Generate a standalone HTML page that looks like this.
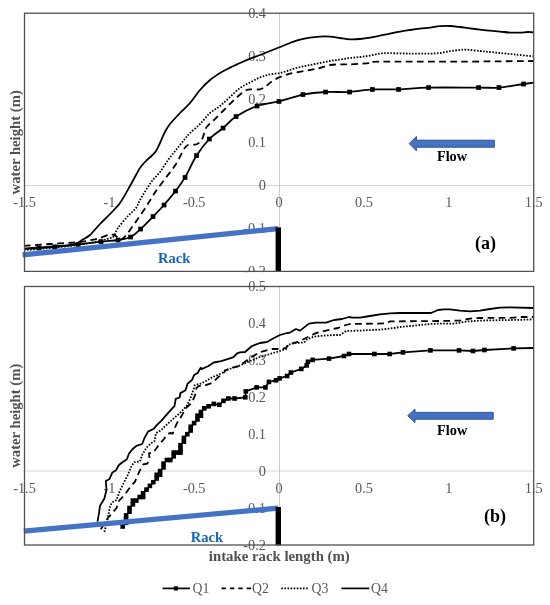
<!DOCTYPE html>
<html lang="en"><head><meta charset="utf-8"><title>Water height along intake rack</title>
<style>html,body{margin:0;padding:0;background:#fff}svg{display:block}text{font-family:"Liberation Serif","Times New Roman",serif}</style></head><body>
<svg width="550" height="605" viewBox="0 0 550 605">
<rect width="550" height="605" fill="#fff"/>
<g id="chart-a">
<line x1="24.5" y1="185.5" x2="533.7" y2="185.5" stroke="#d4d4d4" stroke-width="1"/>
<line x1="279.5" y1="13.2" x2="279.5" y2="271.4" stroke="#cccccc" stroke-width="1"/>
<g fill="#595959" font-size="14.3px">
<text x="266" y="18.0" text-anchor="end">0.4</text>
<text x="266" y="61.0" text-anchor="end">0.3</text>
<text x="266" y="104.1" text-anchor="end">0.2</text>
<text x="266" y="147.1" text-anchor="end">0.1</text>
<text x="266" y="190.1" text-anchor="end">0</text>
<text x="266" y="233.2" text-anchor="end">-0.1</text>
<text x="266" y="276.2" text-anchor="end">-0.2</text>
<text x="24.5" y="207.3" text-anchor="middle">-1.5</text>
<text x="109.4" y="207.3" text-anchor="middle">-1</text>
<text x="194.2" y="207.3" text-anchor="middle">-0.5</text>
<text x="279.1" y="207.3" text-anchor="middle">0</text>
<text x="364.0" y="207.3" text-anchor="middle">0.5</text>
<text x="448.8" y="207.3" text-anchor="middle">1</text>
<text x="533.7" y="207.3" text-anchor="middle">1.5</text>
</g>
<text transform="translate(19.5,142.3) rotate(-90)" text-anchor="middle" font-size="14.7px" font-weight="bold" fill="#505050">water height (m)</text>
<g fill="none" stroke="#000" stroke-width="1.8" stroke-linejoin="round">
<path d="M24.0 248.6 C26.7 248.4 34.0 247.8 40.0 247.4 C46.0 247.0 54.2 246.6 60.0 246.0 C65.8 245.4 71.3 245.0 75.0 244.0 C78.7 243.0 79.5 241.5 82.0 240.0 C84.5 238.5 87.0 237.7 90.0 235.0 C93.0 232.3 96.7 227.5 100.0 224.0 C103.3 220.5 106.7 217.5 110.0 214.0 C113.3 210.5 116.7 207.7 120.0 203.0 C123.3 198.3 126.7 191.8 130.0 186.0 C133.3 180.2 137.3 172.2 140.0 168.0 C142.7 163.8 144.0 163.1 146.0 161.0 C148.0 158.9 150.3 157.2 152.0 155.5 C153.7 153.8 154.7 153.1 156.0 151.0 C157.3 148.9 158.8 145.5 160.0 143.0 C161.2 140.5 162.0 138.2 163.0 136.0 C164.0 133.8 164.8 132.0 166.0 130.0 C167.2 128.0 167.7 126.8 170.0 124.0 C172.3 121.2 176.7 116.5 180.0 113.0 C183.3 109.5 186.7 106.8 190.0 103.0 C193.3 99.2 196.7 93.8 200.0 90.0 C203.3 86.2 206.7 82.8 210.0 80.0 C213.3 77.2 216.7 75.1 220.0 73.0 C223.3 70.9 226.7 69.3 230.0 67.6 C233.3 65.9 236.7 64.5 240.0 63.0 C243.3 61.5 246.7 59.9 250.0 58.6 C253.3 57.3 256.7 56.3 260.0 55.0 C263.3 53.7 266.7 52.3 270.0 51.0 C273.3 49.7 276.7 48.3 280.0 47.0 C283.3 45.7 286.7 44.2 290.0 43.0 C293.3 41.8 296.7 40.5 300.0 39.6 C303.3 38.7 306.7 38.1 310.0 37.6 C313.3 37.1 316.7 36.8 320.0 36.6 C323.3 36.4 326.7 36.4 330.0 36.6 C333.3 36.8 336.7 37.5 340.0 38.0 C343.3 38.5 346.7 39.2 350.0 39.4 C353.3 39.6 356.7 39.3 360.0 39.0 C363.3 38.7 366.7 38.2 370.0 37.6 C373.3 37.0 376.7 36.3 380.0 35.6 C383.3 34.9 386.7 34.3 390.0 33.6 C393.3 32.9 396.7 32.2 400.0 31.6 C403.3 31.0 406.7 30.5 410.0 30.0 C413.3 29.5 416.7 29.0 420.0 28.6 C423.3 28.2 426.7 28.0 430.0 27.6 C433.3 27.2 436.7 26.5 440.0 26.2 C443.3 25.9 446.7 25.9 450.0 26.0 C453.3 26.1 456.7 26.6 460.0 27.0 C463.3 27.4 466.7 28.0 470.0 28.4 C473.3 28.8 476.7 29.2 480.0 29.6 C483.3 30.0 486.7 30.3 490.0 30.6 C493.3 30.9 496.7 31.3 500.0 31.6 C503.3 31.9 506.7 32.4 510.0 32.6 C513.3 32.8 517.0 32.7 520.0 32.6 C523.0 32.5 525.7 32.0 528.0 32.0 C530.3 32.0 533.0 32.3 534.0 32.4"/>
<path d="M24.0 250.0 C28.3 249.7 40.7 248.9 50.0 248.0 C59.3 247.1 71.7 245.8 80.0 244.6 C88.3 243.4 95.0 242.1 100.0 241.0 C105.0 239.9 107.7 238.8 110.0 238.0 C112.3 237.2 112.7 237.7 114.0 236.0 C115.3 234.3 115.7 231.3 118.0 228.0 C120.3 224.7 125.0 219.3 128.0 216.0 C131.0 212.7 134.0 210.7 136.0 208.0 C138.0 205.3 138.3 203.0 140.0 200.0 C141.7 197.0 144.0 193.2 146.0 190.0 C148.0 186.8 149.7 184.0 152.0 181.0 C154.3 178.0 157.3 175.5 160.0 172.0 C162.7 168.5 165.3 163.7 168.0 160.0 C170.7 156.3 173.3 153.3 176.0 150.0 C178.7 146.7 181.7 142.8 184.0 140.0 C186.3 137.2 187.3 135.7 190.0 133.0 C192.7 130.3 196.7 127.3 200.0 124.0 C203.3 120.7 206.7 116.0 210.0 113.0 C213.3 110.0 216.7 108.7 220.0 106.0 C223.3 103.3 226.7 100.0 230.0 97.0 C233.3 94.0 236.7 90.4 240.0 88.0 C243.3 85.6 246.7 84.2 250.0 82.5 C253.3 80.8 256.7 78.8 260.0 77.5 C263.3 76.2 266.7 75.2 270.0 74.4 C273.3 73.7 276.7 73.7 280.0 73.0 C283.3 72.3 286.7 71.0 290.0 70.0 C293.3 69.0 296.7 67.8 300.0 67.0 C303.3 66.2 306.7 65.7 310.0 65.0 C313.3 64.3 316.7 63.7 320.0 63.0 C323.3 62.3 326.7 61.6 330.0 61.0 C333.3 60.4 336.7 60.1 340.0 59.6 C343.3 59.1 346.7 58.4 350.0 58.0 C353.3 57.6 356.7 57.4 360.0 57.0 C363.3 56.6 366.7 56.2 370.0 55.6 C373.3 55.0 376.7 54.0 380.0 53.6 C383.3 53.2 385.0 53.2 390.0 53.2 C395.0 53.2 403.3 53.5 410.0 53.6 C416.7 53.7 425.0 53.7 430.0 53.6 C435.0 53.5 436.7 53.4 440.0 53.0 C443.3 52.6 446.7 51.7 450.0 51.2 C453.3 50.7 457.3 50.3 460.0 50.0 C462.7 49.7 462.7 49.4 466.0 49.6 C469.3 49.8 476.0 50.6 480.0 51.0 C484.0 51.4 486.7 51.7 490.0 52.0 C493.3 52.3 496.7 52.7 500.0 53.0 C503.3 53.3 506.7 53.7 510.0 54.0 C513.3 54.3 516.0 54.6 520.0 55.0 C524.0 55.4 531.7 56.2 534.0 56.4" stroke-dasharray="1.6 1.5"/>
<path d="M24.0 245.8 C28.3 245.5 41.3 244.6 50.0 244.0 C58.7 243.4 69.3 243.0 76.0 242.4 C82.7 241.8 86.0 241.0 90.0 240.3 C94.0 239.6 96.7 239.0 100.0 238.0 C103.3 237.0 107.3 234.8 110.0 234.5 C112.7 234.2 114.3 235.1 116.0 236.0 C117.7 236.9 118.3 240.1 120.0 240.0 C121.7 239.9 123.8 237.7 126.0 235.3 C128.2 232.9 130.9 228.6 133.2 225.5 C135.4 222.4 137.4 219.7 139.5 216.6 C141.6 213.5 144.0 210.1 145.9 207.1 C147.8 204.1 149.3 201.5 151.0 198.8 C152.7 196.1 153.5 194.6 156.0 191.0 C158.5 187.4 162.7 182.0 166.0 177.5 C169.3 173.0 173.0 168.8 176.0 164.0 C179.0 159.2 182.0 152.2 184.0 149.0 C186.0 145.8 186.0 145.8 188.0 145.0 C190.0 144.2 194.0 145.0 196.0 144.5 C198.0 144.0 198.8 143.2 200.0 142.0 C201.2 140.8 202.0 139.3 203.0 137.0 C204.0 134.7 204.2 130.8 206.0 128.0 C207.8 125.2 211.0 123.0 214.0 120.0 C217.0 117.0 220.7 113.3 224.0 110.0 C227.3 106.7 231.0 102.8 234.0 100.0 C237.0 97.2 239.7 94.7 242.0 93.0 C244.3 91.3 245.0 90.2 248.0 89.6 C251.0 89.0 257.0 89.9 260.0 89.3 C263.0 88.7 263.7 87.5 266.0 86.0 C268.3 84.5 271.0 81.7 274.0 80.0 C277.0 78.3 280.3 76.9 284.0 75.6 C287.7 74.3 291.7 73.3 296.0 72.4 C300.3 71.5 306.0 70.7 310.0 70.0 C314.0 69.3 316.7 68.8 320.0 68.0 C323.3 67.2 326.7 65.6 330.0 65.0 C333.3 64.4 336.7 64.5 340.0 64.4 C343.3 64.3 345.0 64.6 350.0 64.4 C355.0 64.2 365.0 63.5 370.0 63.0 C375.0 62.5 365.0 61.8 380.0 61.6 C395.0 61.4 434.3 61.7 460.0 61.6 C485.7 61.5 521.7 61.1 534.0 61.0" stroke-dasharray="6.7 4.4"/>
<path d="M24.0 249.0 C26.5 248.8 33.8 248.4 39.0 248.0 C44.2 247.6 48.5 247.4 55.0 246.8 C61.5 246.2 70.3 245.5 78.0 244.6 C85.7 243.7 94.3 242.4 101.0 241.6 C107.7 240.8 113.1 240.8 118.0 240.0 C122.9 239.2 126.8 238.8 130.6 237.0 C134.4 235.2 136.9 232.4 140.6 229.0 C144.3 225.6 149.1 220.6 153.0 216.6 C156.9 212.6 160.2 209.3 164.0 205.0 C167.8 200.7 172.1 195.6 175.6 191.0 C179.1 186.4 181.5 183.3 185.0 177.4 C188.5 171.5 192.5 162.0 196.6 155.6 C200.7 149.2 204.9 143.6 209.3 139.0 C213.7 134.4 218.6 131.7 223.0 128.0 C227.4 124.3 230.3 120.3 236.0 116.6 C241.7 112.9 249.8 108.5 257.0 106.0 C264.2 103.5 271.3 103.3 279.0 101.4 C286.7 99.5 295.2 96.2 303.0 94.6 C310.8 93.0 317.8 92.4 325.6 92.0 C333.4 91.6 341.8 92.4 349.6 92.0 C357.4 91.6 364.2 89.8 372.4 89.4 C380.6 89.0 389.2 89.7 398.6 89.4 C408.0 89.1 415.3 87.9 428.6 87.6 C441.9 87.3 466.9 87.6 478.6 87.6 C490.3 87.6 491.5 88.2 499.0 87.6 C506.5 87.0 517.8 84.8 523.6 84.0 C529.4 83.2 532.3 82.8 534.0 82.6"/>
</g>
<g fill="#000"><rect x="36.6" y="245.7" width="4.7" height="4.7"/><rect x="52.6" y="244.5" width="4.7" height="4.7"/><rect x="75.7" y="242.2" width="4.7" height="4.7"/><rect x="98.7" y="239.2" width="4.7" height="4.7"/><rect x="115.7" y="237.7" width="4.7" height="4.7"/><rect x="128.2" y="234.7" width="4.7" height="4.7"/><rect x="138.2" y="226.7" width="4.7" height="4.7"/><rect x="150.7" y="214.2" width="4.7" height="4.7"/><rect x="161.7" y="202.7" width="4.7" height="4.7"/><rect x="173.2" y="188.7" width="4.7" height="4.7"/><rect x="182.7" y="175.1" width="4.7" height="4.7"/><rect x="194.2" y="153.2" width="4.7" height="4.7"/><rect x="207.0" y="136.7" width="4.7" height="4.7"/><rect x="220.7" y="125.7" width="4.7" height="4.7"/><rect x="233.7" y="114.2" width="4.7" height="4.7"/><rect x="254.7" y="103.7" width="4.7" height="4.7"/><rect x="276.6" y="99.1" width="4.7" height="4.7"/><rect x="300.6" y="92.2" width="4.7" height="4.7"/><rect x="323.2" y="89.7" width="4.7" height="4.7"/><rect x="347.2" y="89.7" width="4.7" height="4.7"/><rect x="370.0" y="87.1" width="4.7" height="4.7"/><rect x="396.2" y="87.1" width="4.7" height="4.7"/><rect x="426.2" y="85.2" width="4.7" height="4.7"/><rect x="476.2" y="85.2" width="4.7" height="4.7"/><rect x="496.6" y="85.2" width="4.7" height="4.7"/><rect x="521.2" y="81.7" width="4.7" height="4.7"/></g>
<line x1="22.6" y1="254.9" x2="278" y2="228.6" stroke="#4472c4" stroke-width="5.3"/>
<rect x="275.6" y="227.4" width="5.4" height="44.6" fill="#000"/>
<text x="158" y="263.3" font-size="14.6px" font-weight="bold" fill="#1467b8">Rack</text>
<path d="M409.2 143.6 L416.4 136.4 L416.4 140.2 L494.3 140.2 L494.3 147.2 L416.4 147.2 L416.4 150.8 Z" fill="#4472c4" stroke="#2f528f" stroke-width="1"/>
<text x="452" y="160.8" text-anchor="middle" font-size="14.3px" font-weight="bold" fill="#000">Flow</text>
<text x="485.5" y="248.5" text-anchor="middle" font-size="18px" font-weight="bold" fill="#000">(a)</text>
<rect x="24.5" y="13.2" width="509.2" height="258.2" fill="none" stroke="#505050" stroke-width="1.3"/>
</g>
<rect x="0" y="272.2" width="550" height="9" fill="#fff"/>
<g id="chart-b">
<line x1="24.5" y1="471.0" x2="533.7" y2="471.0" stroke="#d4d4d4" stroke-width="1"/>
<line x1="279.5" y1="286.5" x2="279.5" y2="545.0" stroke="#cccccc" stroke-width="1"/>
<g fill="#595959" font-size="14.3px">
<text x="266" y="291.3" text-anchor="end">0.5</text>
<text x="266" y="328.2" text-anchor="end">0.4</text>
<text x="266" y="365.2" text-anchor="end">0.3</text>
<text x="266" y="402.1" text-anchor="end">0.2</text>
<text x="266" y="439.0" text-anchor="end">0.1</text>
<text x="266" y="475.9" text-anchor="end">0</text>
<text x="266" y="512.9" text-anchor="end">-0.1</text>
<text x="266" y="549.8" text-anchor="end">-0.2</text>
<text x="24.5" y="493.1" text-anchor="middle">-1.5</text>
<text x="109.4" y="493.1" text-anchor="middle">-1</text>
<text x="194.2" y="493.1" text-anchor="middle">-0.5</text>
<text x="279.1" y="493.1" text-anchor="middle">0</text>
<text x="364.0" y="493.1" text-anchor="middle">0.5</text>
<text x="448.8" y="493.1" text-anchor="middle">1</text>
<text x="533.7" y="493.1" text-anchor="middle">1.5</text>
</g>
<text transform="translate(19.5,415.7) rotate(-90)" text-anchor="middle" font-size="14.7px" font-weight="bold" fill="#505050">water height (m)</text>
<g fill="none" stroke="#000" stroke-width="1.8" stroke-linejoin="round">
<path d="M97.5 521.6 L99.2 511.8 L100.0 505.8 L104.4 498.5 L106.5 489.8 L105.8 481.0 L109.5 479.0 L112.4 472.4 L116.0 470.2 L118.9 465.0 L122.5 462.2 L126.9 459.3 L129.0 453.5 L132.7 449.0 L136.4 445.9 L142.2 444.0 L144.4 438.2 L148.0 431.6 L153.8 428.7 L157.5 424.4 L161.5 420.7 L165.8 415.6 L170.9 409.8 L174.5 406.2 L175.7 398.9 L179.6 397.5 L180.4 393.1 L185.5 390.2 L187.6 383.6 L192.0 380.0 L194.2 374.9 L197.8 372.7 L200.7 367.6 L201.5 369.1 L208.0 366.2 L213.8 362.5 L221.1 361.1 L228.4 358.9 L233.5 357.2 L237.1 353.4 L240.0 352.4 L245.0 352.0 L252.0 346.0 L260.0 343.0 L267.0 342.0 L274.0 338.0 L280.0 335.0 L287.0 333.0 L290.0 332.6 L296.0 329.0 L300.0 330.6 L309.0 323.6 L316.0 322.6 L326.0 322.6 L334.0 320.0 L342.0 319.0 L349.0 317.0 L352.0 317.6 L360.0 317.6 L370.0 316.0 L380.0 314.4 L390.0 313.4 L400.0 313.0 L420.0 313.0 L431.0 313.0 L438.0 310.0 L444.0 309.4 L450.0 309.4 L460.0 310.6 L470.0 311.4 L480.0 310.6 L490.0 309.0 L500.0 307.6 L510.0 307.4 L534.0 308.0"/>
<path d="M104.4 532.0 L107.9 517.3 L110.2 505.8 L112.4 502.2 L116.7 500.0 L119.6 491.3 L124.0 482.5 L127.6 475.3 L131.3 466.5 L134.2 462.2 L140.0 461.5 L142.2 454.9 L146.5 447.6 L150.9 443.3 L154.5 441.1 L156.0 433.1 L161.1 430.2 L165.8 425.5 L170.2 421.5 L176.0 416.4 L181.8 411.3 L186.9 405.5 L190.5 398.2 L193.5 389.5 L194.9 385.1 L200.7 383.6 L206.5 380.7 L212.4 377.1 L218.2 374.9 L222.5 372.7 L225.5 369.8 L229.8 369.0 L232.0 368.0 L240.0 365.4 L250.0 361.0 L260.0 357.0 L270.0 354.0 L280.0 351.0 L286.0 349.0 L288.0 345.0 L294.0 343.0 L304.0 342.6 L307.0 339.4 L314.0 336.6 L324.0 335.6 L334.0 335.0 L340.0 335.0 L346.0 331.0 L360.0 330.6 L380.0 329.6 L390.0 328.6 L400.0 327.0 L410.0 326.0 L420.0 325.0 L430.0 324.0 L440.0 323.6 L454.0 323.6 L466.0 321.6 L480.0 320.6 L500.0 320.2 L520.0 319.8 L534.0 319.4" stroke-dasharray="1.6 1.5"/>
<path d="M100.8 529.3 L108.4 517.3 L116.6 508.0 L118.8 501.0 L124.0 495.6 L129.8 487.6 L134.9 481.8 L139.3 471.6 L143.0 464.5 L147.3 463.6 L149.5 458.5 L149.0 453.2 L153.0 453.0 L156.0 449.0 L159.0 444.7 L164.0 439.0 L167.0 434.5 L170.0 433.0 L172.7 433.6 L175.0 427.3 L177.5 422.2 L181.8 415.6 L185.5 408.4 L192.0 402.5 L195.6 393.8 L196.4 388.0 L199.3 385.8 L203.6 385.8 L210.2 383.6 L213.8 381.5 L218.2 377.1 L222.5 374.2 L226.2 369.8 L229.1 369.5 L232.7 367.6 L240.0 365.9 L242.0 364.0 L250.0 358.0 L260.0 352.0 L272.0 349.0 L280.0 349.0 L286.0 348.0 L288.0 345.0 L300.0 341.0 L308.0 337.0 L316.0 333.0 L326.0 330.6 L338.0 328.0 L346.0 325.0 L350.0 324.0 L386.0 323.4 L390.0 321.4 L440.0 321.0 L460.0 320.6 L470.0 318.6 L480.0 318.0 L510.0 317.8 L520.0 317.0 L534.0 317.0" stroke-dasharray="6.7 4.4"/>
<path d="M122.7 526.5 L122.7 522.8 L126.1 522.8 L126.1 519.1 L126.1 515.4 L129.5 511.7 L129.5 508.0 L132.9 504.3 L132.9 500.6 L136.3 500.6 L139.7 497.0 L143.1 497.0 L143.1 493.3 L146.5 489.6 L149.9 485.9 L153.3 482.2 L156.7 478.5 L156.7 474.8 L160.1 474.8 L160.1 471.1 L163.5 467.4 L163.5 463.7 L166.9 460.0 L170.3 460.0 L173.7 456.3 L173.7 452.6 L177.1 452.6 L180.5 452.6 L180.5 448.9 L180.5 445.2 L183.9 441.6 L183.9 437.9 L187.3 434.2 L190.7 430.5 L190.7 426.8 L194.1 423.1 L197.5 419.4 L197.5 415.7 L200.9 415.7 L200.9 412.0 L204.3 408.3 L208.6 406.3 L213.8 403.9 L219.3 404.8 L223.5 400.8 L228.3 398.5 L234.6 398.5 L245.3 397.3 L245.8 391.4 L256.6 387.4 L265.4 387.4 L268.9 381.9 L276.0 380.3 L279.6 378.4 L287.1 376.0 L290.9 372.5 L301.3 368.9 L306.7 365.4 L307.9 361.8 L312.7 359.9 L329.0 358.6 L344.0 356.0 L349.0 354.0 L374.4 354.0 L389.6 354.0 L403.0 352.4 L430.4 350.4 L459.0 350.4 L473.0 351.0 L484.4 350.0 L513.6 348.4 L534.0 348.0"/>
</g>
<g fill="#000"><rect x="120.4" y="524.2" width="4.6" height="4.6"/><rect x="120.4" y="520.5" width="4.6" height="4.6"/><rect x="123.8" y="520.5" width="4.6" height="4.6"/><rect x="123.8" y="516.8" width="4.6" height="4.6"/><rect x="123.8" y="513.1" width="4.6" height="4.6"/><rect x="127.2" y="509.4" width="4.6" height="4.6"/><rect x="127.2" y="505.7" width="4.6" height="4.6"/><rect x="130.6" y="502.0" width="4.6" height="4.6"/><rect x="130.6" y="498.3" width="4.6" height="4.6"/><rect x="134.0" y="498.3" width="4.6" height="4.6"/><rect x="137.4" y="494.7" width="4.6" height="4.6"/><rect x="140.8" y="494.7" width="4.6" height="4.6"/><rect x="140.8" y="491.0" width="4.6" height="4.6"/><rect x="144.2" y="487.3" width="4.6" height="4.6"/><rect x="147.6" y="483.6" width="4.6" height="4.6"/><rect x="151.0" y="479.9" width="4.6" height="4.6"/><rect x="154.4" y="476.2" width="4.6" height="4.6"/><rect x="154.4" y="472.5" width="4.6" height="4.6"/><rect x="157.8" y="472.5" width="4.6" height="4.6"/><rect x="157.8" y="468.8" width="4.6" height="4.6"/><rect x="161.2" y="465.1" width="4.6" height="4.6"/><rect x="161.2" y="461.4" width="4.6" height="4.6"/><rect x="164.6" y="457.7" width="4.6" height="4.6"/><rect x="168.0" y="457.7" width="4.6" height="4.6"/><rect x="171.4" y="454.0" width="4.6" height="4.6"/><rect x="171.4" y="450.3" width="4.6" height="4.6"/><rect x="174.8" y="450.3" width="4.6" height="4.6"/><rect x="178.2" y="450.3" width="4.6" height="4.6"/><rect x="178.2" y="446.6" width="4.6" height="4.6"/><rect x="178.2" y="442.9" width="4.6" height="4.6"/><rect x="181.6" y="439.3" width="4.6" height="4.6"/><rect x="181.6" y="435.6" width="4.6" height="4.6"/><rect x="185.0" y="431.9" width="4.6" height="4.6"/><rect x="188.4" y="428.2" width="4.6" height="4.6"/><rect x="188.4" y="424.5" width="4.6" height="4.6"/><rect x="191.8" y="420.8" width="4.6" height="4.6"/><rect x="195.2" y="417.1" width="4.6" height="4.6"/><rect x="195.2" y="413.4" width="4.6" height="4.6"/><rect x="198.6" y="413.4" width="4.6" height="4.6"/><rect x="198.6" y="409.7" width="4.6" height="4.6"/><rect x="202.0" y="406.0" width="4.6" height="4.6"/><rect x="206.3" y="404.0" width="4.6" height="4.6"/><rect x="211.5" y="401.6" width="4.6" height="4.6"/><rect x="217.0" y="402.5" width="4.6" height="4.6"/><rect x="221.2" y="398.5" width="4.6" height="4.6"/><rect x="226.0" y="396.2" width="4.6" height="4.6"/><rect x="232.3" y="396.2" width="4.6" height="4.6"/><rect x="243.0" y="395.0" width="4.6" height="4.6"/><rect x="243.5" y="389.1" width="4.6" height="4.6"/><rect x="254.3" y="385.1" width="4.6" height="4.6"/><rect x="263.1" y="385.1" width="4.6" height="4.6"/><rect x="266.6" y="379.6" width="4.6" height="4.6"/><rect x="273.7" y="378.0" width="4.6" height="4.6"/><rect x="277.3" y="376.1" width="4.6" height="4.6"/><rect x="284.8" y="373.7" width="4.6" height="4.6"/><rect x="288.6" y="370.2" width="4.6" height="4.6"/><rect x="299.0" y="366.6" width="4.6" height="4.6"/><rect x="304.4" y="363.1" width="4.6" height="4.6"/><rect x="305.6" y="359.5" width="4.6" height="4.6"/><rect x="310.4" y="357.6" width="4.6" height="4.6"/><rect x="326.7" y="356.3" width="4.6" height="4.6"/><rect x="341.7" y="353.7" width="4.6" height="4.6"/><rect x="346.7" y="351.7" width="4.6" height="4.6"/><rect x="372.1" y="351.7" width="4.6" height="4.6"/><rect x="387.3" y="351.7" width="4.6" height="4.6"/><rect x="400.7" y="350.1" width="4.6" height="4.6"/><rect x="428.1" y="348.1" width="4.6" height="4.6"/><rect x="456.7" y="348.1" width="4.6" height="4.6"/><rect x="470.7" y="348.7" width="4.6" height="4.6"/><rect x="482.1" y="347.7" width="4.6" height="4.6"/><rect x="511.3" y="346.1" width="4.6" height="4.6"/></g>
<line x1="23.8" y1="531.2" x2="278" y2="508.2" stroke="#4472c4" stroke-width="5.2"/>
<rect x="275.6" y="507" width="5.4" height="38.4" fill="#000"/>
<text x="190.7" y="541.5" font-size="14.6px" font-weight="bold" fill="#1467b8">Rack</text>
<path d="M407.7 415.7 L415 409.0 L415 412.4 L493.2 412.4 L493.2 419.2 L415 419.2 L415 422.6 Z" fill="#4472c4" stroke="#2f528f" stroke-width="1"/>
<text x="452.2" y="434.7" text-anchor="middle" font-size="14.3px" font-weight="bold" fill="#000">Flow</text>
<text x="495" y="521.5" text-anchor="middle" font-size="18px" font-weight="bold" fill="#000">(b)</text>
<rect x="24.5" y="286.5" width="509.2" height="258.5" fill="none" stroke="#505050" stroke-width="1.3"/>
<text x="279.3" y="560.6" text-anchor="middle" font-size="14.8px" font-weight="bold" fill="#505050">intake rack length (m)</text>
</g>
<g id="legend">
<g stroke="#000" stroke-width="1.7" fill="none">
<line x1="162.6" y1="588.4" x2="189.9" y2="588.4"/>
<line x1="221.5" y1="588.4" x2="251" y2="588.4" stroke-dasharray="4.4 4"/>
<line x1="281.3" y1="588.4" x2="308.2" y2="588.4" stroke-dasharray="1.6 1.5"/>
<line x1="341.4" y1="588.4" x2="369.3" y2="588.4"/>
</g>
<rect x="173.8" y="586.3" width="4.2" height="4.2" fill="#000"/>
<g fill="#595959" font-size="13.8px">
<text x="192.6" y="593">Q1</text>
<text x="252.0" y="593">Q2</text>
<text x="311.6" y="593">Q3</text>
<text x="371.0" y="593">Q4</text>
</g></g>
</svg></body></html>
